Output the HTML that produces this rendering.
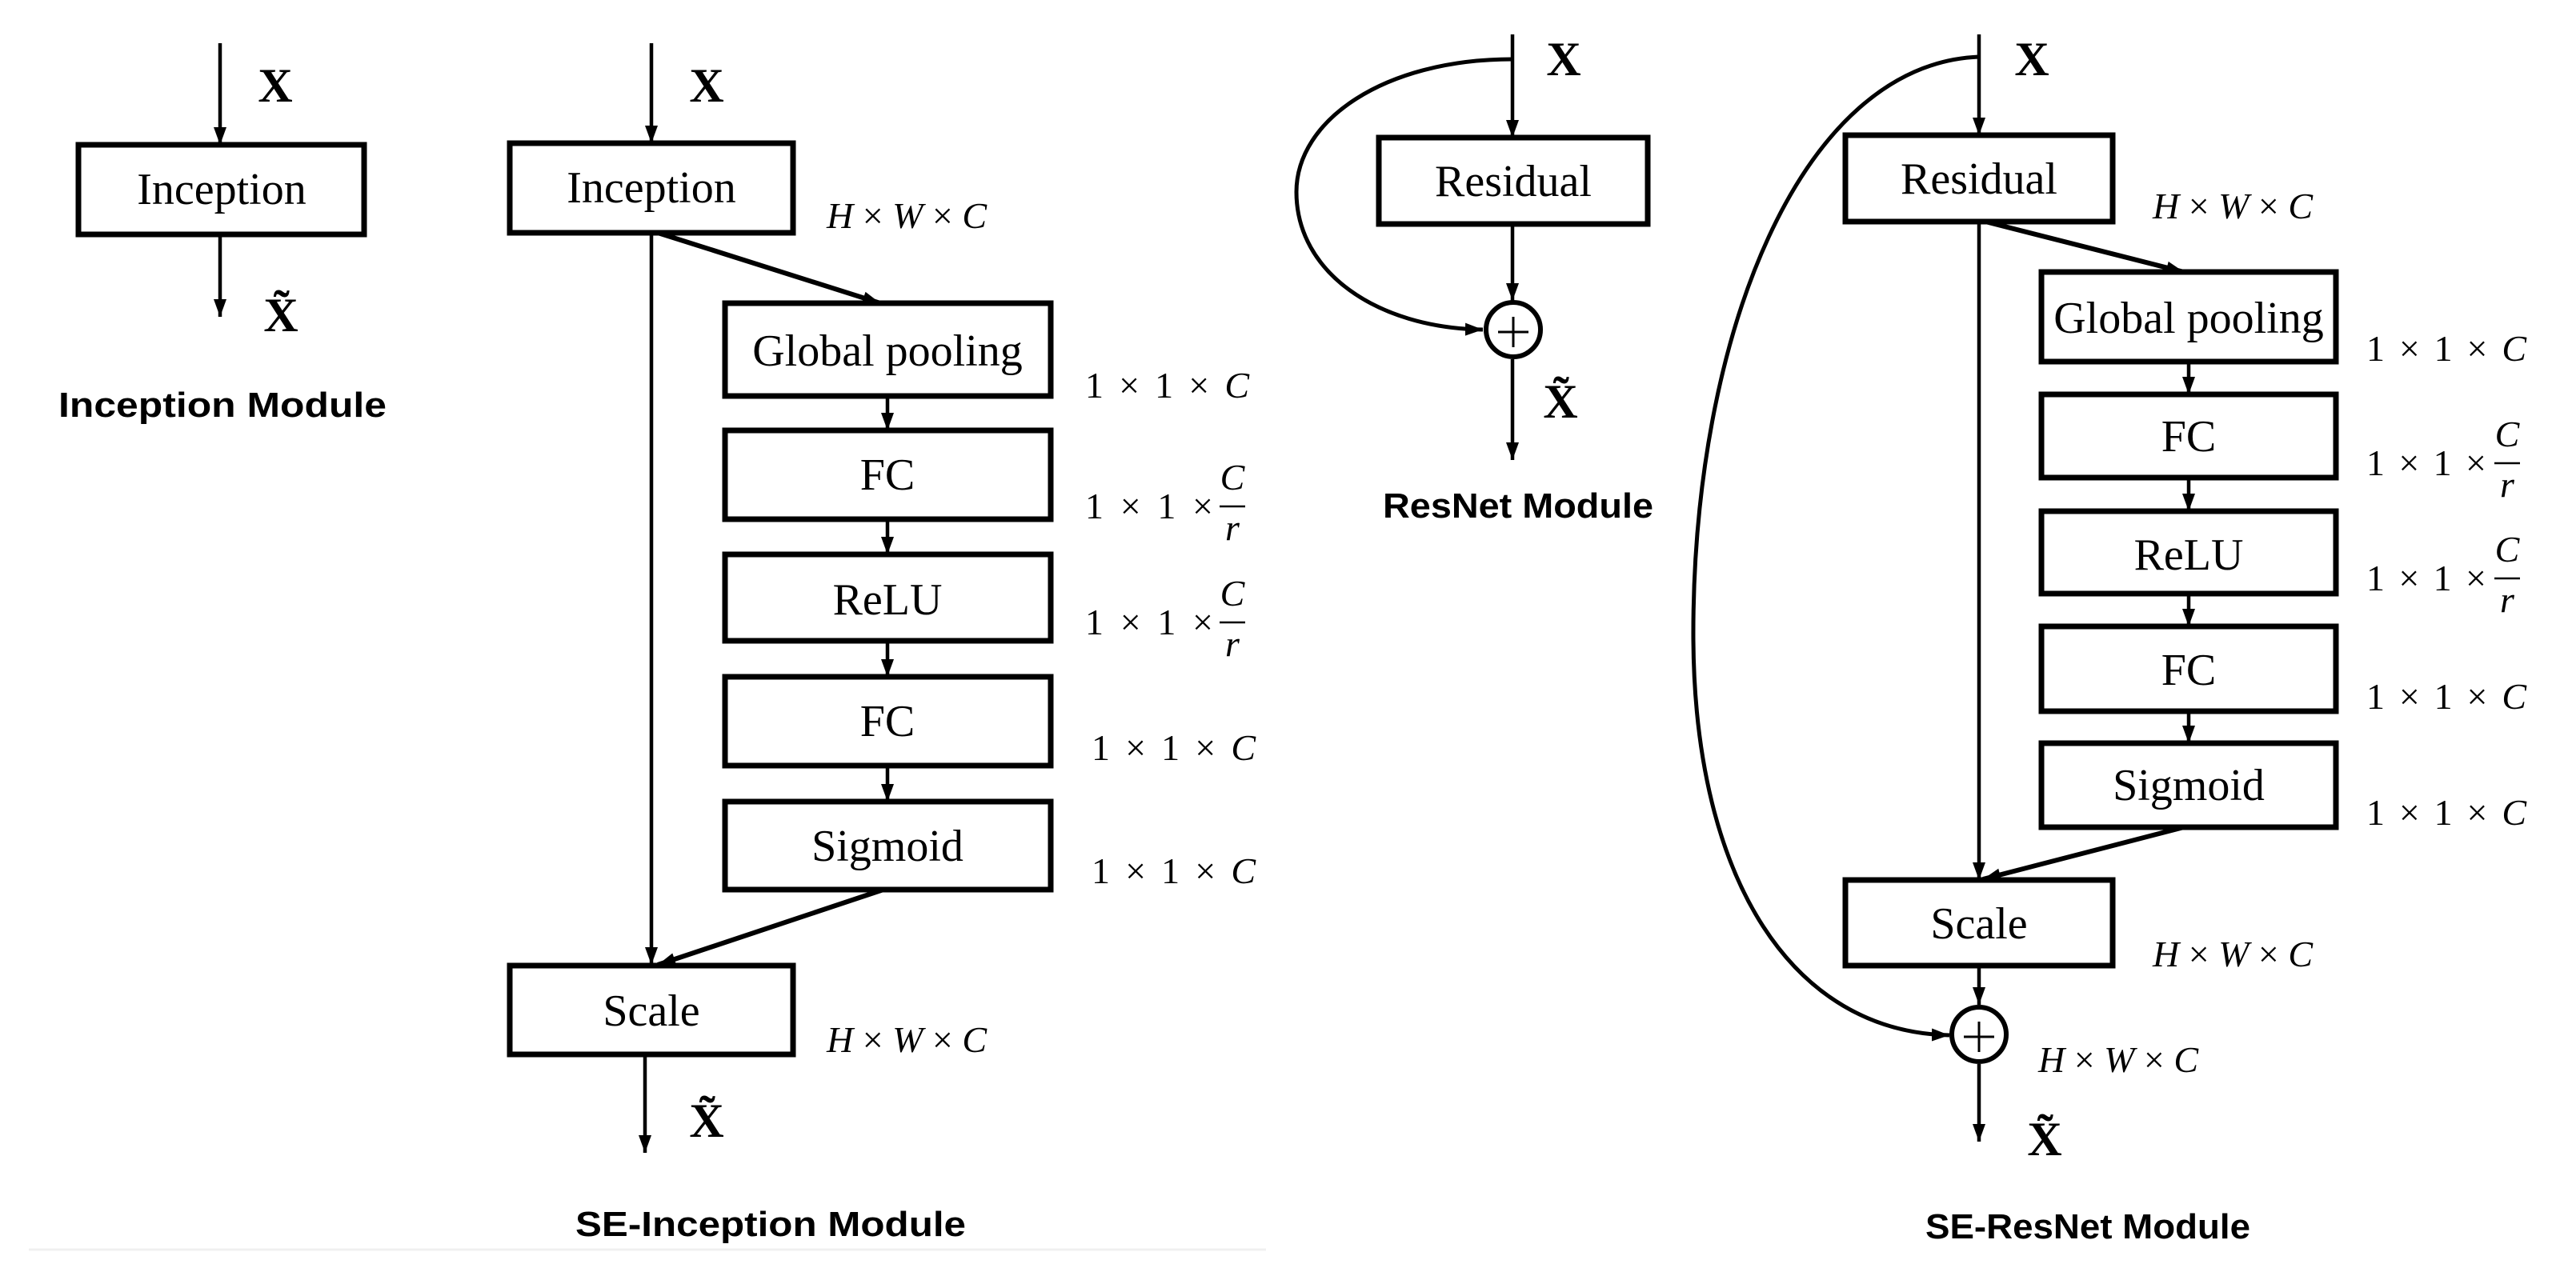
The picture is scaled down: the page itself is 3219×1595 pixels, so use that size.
<!DOCTYPE html>
<html><head><meta charset="utf-8"><style>
html,body{margin:0;padding:0;background:#fff}
svg{display:block}
.b{font-family:"Liberation Serif",serif;font-size:56px;text-anchor:middle}
.x{font-family:"Liberation Serif",serif;font-size:60px;font-weight:bold;text-anchor:middle}
.d{font-family:"Liberation Serif",serif;font-size:46px}
.i{font-style:italic}
.t{font-family:"Liberation Sans",sans-serif;font-size:44px;font-weight:bold;text-anchor:middle}
</style></head><body>
<svg width="3219" height="1595" viewBox="0 0 3219 1595" xmlns="http://www.w3.org/2000/svg">
<defs>
<marker id="a" markerUnits="userSpaceOnUse" markerWidth="24" markerHeight="20" refX="22" refY="10" orient="auto">
<path d="M0,2 L22,10 L0,18 Z" fill="#000"/>
</marker>
</defs>
<g fill="none" stroke="#000" stroke-width="4.5">
<line x1="275" y1="54" x2="275" y2="181" marker-end="url(#a)"/>
<line x1="275" y1="293" x2="275" y2="396" marker-end="url(#a)"/>
<line x1="814" y1="54" x2="814" y2="179" marker-end="url(#a)"/>
<line x1="814" y1="291" x2="814" y2="1206" marker-end="url(#a)"/>
<line x1="822" y1="291" x2="1100" y2="379" stroke-width="6" marker-end="url(#a)"/>
<line x1="1109" y1="495" x2="1109" y2="538" marker-end="url(#a)"/>
<line x1="1109" y1="649" x2="1109" y2="693" marker-end="url(#a)"/>
<line x1="1109" y1="801" x2="1109" y2="846" marker-end="url(#a)"/>
<line x1="1109" y1="957" x2="1109" y2="1002" marker-end="url(#a)"/>
<line x1="1104" y1="1112" x2="822" y2="1206" stroke-width="6" marker-end="url(#a)"/>
<line x1="806" y1="1318" x2="806" y2="1441" marker-end="url(#a)"/>
<line x1="1890" y1="43" x2="1890" y2="172" marker-end="url(#a)"/>
<line x1="1890" y1="280" x2="1890" y2="376" marker-end="url(#a)"/>
<line x1="1890" y1="449" x2="1890" y2="575" marker-end="url(#a)"/>
<path d="M1890,74 C1730,74 1620,150 1620,240 C1620,340 1720,410 1853,412" stroke-width="5" marker-end="url(#a)"/>
<line x1="2473" y1="43" x2="2473" y2="169" marker-end="url(#a)"/>
<line x1="2473" y1="277" x2="2473" y2="1100" marker-end="url(#a)"/>
<line x1="2481" y1="277" x2="2729" y2="340" stroke-width="6" marker-end="url(#a)"/>
<line x1="2735" y1="452" x2="2735" y2="493" marker-end="url(#a)"/>
<line x1="2735" y1="597" x2="2735" y2="639" marker-end="url(#a)"/>
<line x1="2735" y1="742" x2="2735" y2="783" marker-end="url(#a)"/>
<line x1="2735" y1="889" x2="2735" y2="929" marker-end="url(#a)"/>
<line x1="2729" y1="1034" x2="2478" y2="1099" stroke-width="6" marker-end="url(#a)"/>
<line x1="2473" y1="1208" x2="2473" y2="1256" marker-end="url(#a)"/>
<line x1="2473" y1="1330" x2="2473" y2="1427" marker-end="url(#a)"/>
<path d="M2473,71 C2250,80 2114,420 2116,800 C2118,1100 2240,1290 2436,1294" stroke-width="5" marker-end="url(#a)"/>
</g>
<g fill="#fff" stroke="#000" stroke-width="7">
<rect x="98" y="181" width="357" height="112"/>
<rect x="637" y="179" width="354" height="112"/>
<rect x="906" y="379" width="407" height="116"/>
<rect x="906" y="538" width="407" height="111"/>
<rect x="906" y="693" width="407" height="108"/>
<rect x="906" y="846" width="407" height="111"/>
<rect x="906" y="1002" width="407" height="110"/>
<rect x="637" y="1207" width="354" height="111"/>
<rect x="1723" y="172" width="336" height="108"/>
<rect x="2306" y="169" width="334" height="108"/>
<rect x="2551" y="340" width="368" height="112"/>
<rect x="2551" y="493" width="368" height="104"/>
<rect x="2551" y="639" width="368" height="103"/>
<rect x="2551" y="783" width="368" height="106"/>
<rect x="2551" y="929" width="368" height="105"/>
<rect x="2306" y="1100" width="334" height="107"/>
</g>
<g fill="#fff" stroke="#000" stroke-width="6">
<circle cx="1891" cy="412" r="34"/>
<circle cx="2473" cy="1293" r="34"/>
</g>
<g stroke="#000" stroke-width="3">
<line x1="1872" y1="415" x2="1910" y2="415"/><line x1="1891" y1="396" x2="1891" y2="434"/>
<line x1="2454" y1="1296" x2="2492" y2="1296"/><line x1="2473" y1="1277" x2="2473" y2="1315"/>
</g>
<line x1="36" y1="1562" x2="1582" y2="1562" stroke="#f0f0f0" stroke-width="3"/>
<g class="b">
<text x="277" y="255">Inception</text>
<text x="814" y="253">Inception</text>
<text x="1109" y="457">Global pooling</text>
<text x="1109" y="612">FC</text>
<text x="1109" y="768">ReLU</text>
<text x="1109" y="920">FC</text>
<text x="1109" y="1076">Sigmoid</text>
<text x="814" y="1282">Scale</text>
<text x="1891" y="245">Residual</text>
<text x="2473" y="242">Residual</text>
<text x="2735" y="416">Global pooling</text>
<text x="2735" y="564">FC</text>
<text x="2735" y="712">ReLU</text>
<text x="2735" y="856">FC</text>
<text x="2735" y="1000">Sigmoid</text>
<text x="2473" y="1173">Scale</text>
</g>
<g class="x">
<text x="344" y="127">X</text>
<text x="883" y="127">X</text>
<text x="1954" y="94">X</text>
<text x="2539" y="94">X</text>
<text x="351" y="414">X̃</text>
<text x="883" y="1421">X̃</text>
<text x="1950" y="522">X̃</text>
<text x="2555" y="1444">X̃</text>
</g>
<g class="d">
<text x="1033" y="285" textLength="200" lengthAdjust="spacing"><tspan class="i">H</tspan> × <tspan class="i">W</tspan> × <tspan class="i">C</tspan></text>
<text x="1033" y="1315" textLength="200" lengthAdjust="spacing"><tspan class="i">H</tspan> × <tspan class="i">W</tspan> × <tspan class="i">C</tspan></text>
<text x="2690" y="273" textLength="200" lengthAdjust="spacing"><tspan class="i">H</tspan> × <tspan class="i">W</tspan> × <tspan class="i">C</tspan></text>
<text x="2690" y="1208" textLength="200" lengthAdjust="spacing"><tspan class="i">H</tspan> × <tspan class="i">W</tspan> × <tspan class="i">C</tspan></text>
<text x="2547" y="1340" textLength="200" lengthAdjust="spacing"><tspan class="i">H</tspan> × <tspan class="i">W</tspan> × <tspan class="i">C</tspan></text>
<text x="1356" y="497" textLength="205" lengthAdjust="spacing">1 × 1 × <tspan class="i">C</tspan></text>
<text x="1364" y="950" textLength="205" lengthAdjust="spacing">1 × 1 × <tspan class="i">C</tspan></text>
<text x="1364" y="1104" textLength="205" lengthAdjust="spacing">1 × 1 × <tspan class="i">C</tspan></text>
<text x="2957" y="451" textLength="200" lengthAdjust="spacing">1 × 1 × <tspan class="i">C</tspan></text>
<text x="2957" y="886" textLength="200" lengthAdjust="spacing">1 × 1 × <tspan class="i">C</tspan></text>
<text x="2957" y="1031" textLength="200" lengthAdjust="spacing">1 × 1 × <tspan class="i">C</tspan></text>
<text x="1356" y="648" textLength="160" lengthAdjust="spacing">1 × 1 ×</text>
<text x="1356" y="793" textLength="160" lengthAdjust="spacing">1 × 1 ×</text>
<text x="2957" y="594" textLength="150" lengthAdjust="spacing">1 × 1 ×</text>
<text x="2957" y="738" textLength="150" lengthAdjust="spacing">1 × 1 ×</text>
<g class="i" text-anchor="middle">
<text x="1540" y="612">C</text><text x="1540" y="675">r</text>
<text x="1540" y="757">C</text><text x="1540" y="820">r</text>
<text x="3133" y="558">C</text><text x="3133" y="621">r</text>
<text x="3133" y="702">C</text><text x="3133" y="765">r</text>
</g>
</g>
<g stroke="#000" stroke-width="2.5">
<line x1="1524" y1="633" x2="1556" y2="633"/>
<line x1="1524" y1="778" x2="1556" y2="778"/>
<line x1="3117" y1="579" x2="3149" y2="579"/>
<line x1="3117" y1="723" x2="3149" y2="723"/>
</g>
<g class="t">
<text x="278" y="521" textLength="410" lengthAdjust="spacingAndGlyphs">Inception Module</text>
<text x="963" y="1545" textLength="488" lengthAdjust="spacingAndGlyphs">SE-Inception Module</text>
<text x="1897" y="647" textLength="338" lengthAdjust="spacingAndGlyphs">ResNet Module</text>
<text x="2609" y="1548" textLength="406" lengthAdjust="spacingAndGlyphs">SE-ResNet Module</text>
</g>
</svg>
</body></html>
